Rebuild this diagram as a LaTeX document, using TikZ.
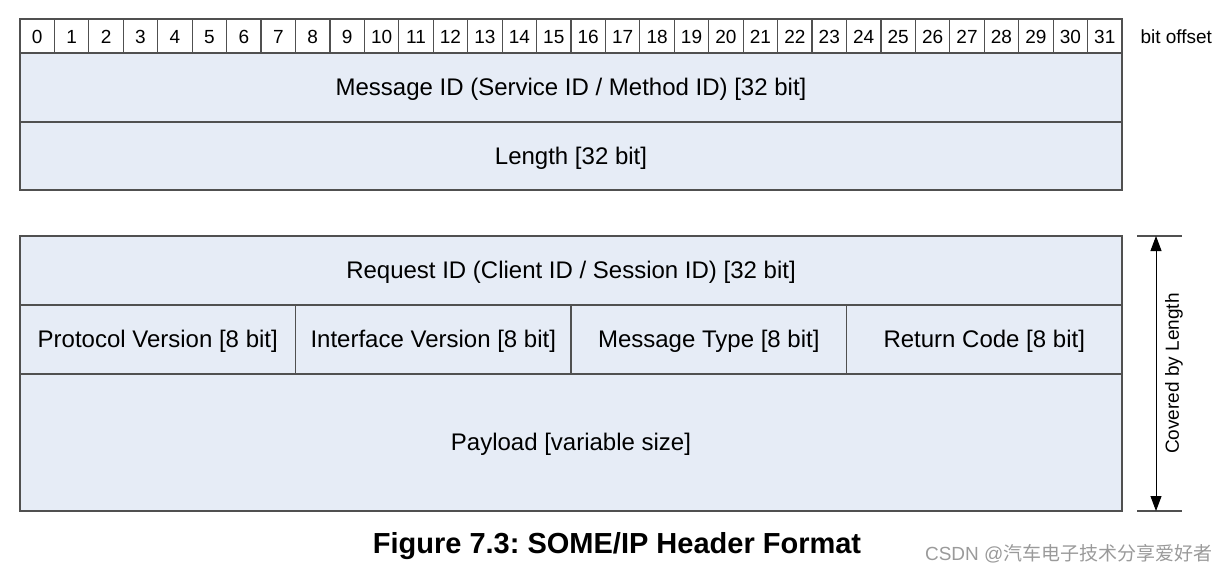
\documentclass[tikz,border=0pt]{standalone}
\usepackage{fontspec}
\setmainfont{Liberation Sans}
\newfontfamily\cjk{Noto Sans CJK SC}
\usetikzlibrary{arrows.meta}
\definecolor{cellfill}{HTML}{E6ECF6}
\definecolor{cellline}{HTML}{505050}
\definecolor{wm}{HTML}{9A9A9A}
\frenchspacing
\begin{document}
\begin{tikzpicture}[x=1pt,y=-1pt,
  field/.style={draw=cellline,line width=1.2pt,fill=cellfill},
  bitcell/.style={draw=cellline,line width=1.2pt,fill=white},
  ftext/.style={font=\fontsize{24}{28}\selectfont},
  btext/.style={font=\fontsize{19}{22}\selectfont}]
\useasboundingbox (0,0) rectangle (1231,573);
% bit offset row
\foreach \i in {0,...,31}{
  \pgfmathsetmacro\xa{20+\i*34.4375}
  \pgfmathsetmacro\xb{20+(\i+1)*34.4375}
  \draw[bitcell] (\xa,19) rectangle (\xb,53);
  \node[btext] (b\i) at ({(\xa+\xb)/2},37) {\i};
}
\node[btext,anchor=west] (boff) at (1137,37) {bit offset};
% first block
\draw[field] (20,53) rectangle (1122,122);
\node[ftext] (msgid) at (571,89.5) {Message ID (Service ID / Method ID) [32 bit]};
\draw[field] (20,122) rectangle (1122,190);
\node[ftext] (len) at (571,158) {Length [32 bit]};
% second block
\draw[field] (20,236) rectangle (1122,305);
\node[ftext] (reqid) at (571,272.5) {Request ID (Client ID / Session ID) [32 bit]};
\draw[field] (20,305) rectangle (295.5,374);
\draw[field] (295.5,305) rectangle (571,374);
\draw[field] (571,305) rectangle (846.5,374);
\draw[field] (846.5,305) rectangle (1122,374);
\node[ftext] (pv) at (157.75,341.5) {Protocol Version [8 bit]};
\node[ftext] (iv) at (433.25,341.5) {Interface Version [8 bit]};
\node[ftext] (mt) at (708.75,341.5) {Message Type [8 bit]};
\node[ftext] (rc) at (984.25,341.5) {Return Code [8 bit]};
\draw[field] (20,374) rectangle (1122,511);
\node[ftext] (pl) at (571,444) {Payload [variable size]};
% length coverage arrow
\coordinate (ctop) at (1156,236);
\coordinate (cbot) at (1156,511);
\draw[cellline,line width=1.2pt] (1137,236) -- (1182,236);
\draw[cellline,line width=1.2pt] (1137,511) -- (1182,511);
\draw[line width=1pt,{Triangle[length=15pt,width=11pt]}-{Triangle[length=15pt,width=11pt]}] (ctop) -- (cbot);
\node[btext,rotate=90] (cov) at (1174,373.5) {Covered by Length};
% caption
\node[font=\bfseries\fontsize{29}{34}\selectfont] (cap) at (617,546) {Figure 7.3: SOME/IP Header Format};
\node[anchor=east,text=wm,font=\fontsize{19}{22}\selectfont] (wmk) at (1216,554) {CSDN @{\cjk 汽车电子技术分享爱好者}};
\end{tikzpicture}
\end{document}
